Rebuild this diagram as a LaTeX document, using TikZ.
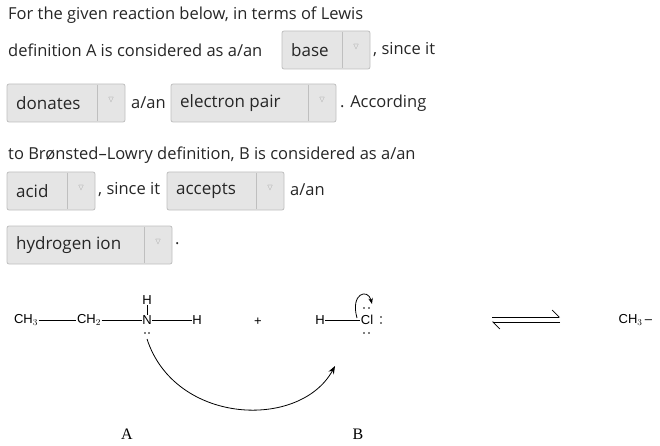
\documentclass[tikz,border=0pt]{standalone}
\usepackage{amssymb}
\usepackage{fontspec}
\setmainfont{Open Sans}
\newfontfamily\chem{Liberation Sans}
\newfontfamily\lab{Liberation Serif}
\usetikzlibrary{arrows.meta}
\tikzset{
 txt/.style={anchor=west,inner sep=0pt,font=\fontsize{16.5pt}{18pt}\selectfont,text=black!85},
 dd/.style={draw=black!25,fill=black!10,rounded corners=2pt,line width=0.8pt},
 ch/.style={inner sep=0.5pt,font=\chem\fontsize{13pt}{15pt}\selectfont},
 bond/.style={line width=0.7pt},
 dot/.style={circle,fill=black,inner sep=0pt,minimum size=1.8pt}
}
\newcommand{\ddbox}[5]{% name,x1,y1,x2,label
 \draw[dd] (#2,#3) rectangle (#4,#3+38);
 \draw[black!25,line width=0.8pt] (#4-28,#3+1) -- (#4-28,#3+37);
 \node[txt,font=\fontsize{17pt}{18pt}\selectfont] (#1) at (#2+9,#3+19) {#5};
 \node[inner sep=0pt,text=black!35,font=\small] (#1v) at (#4-14,#3+16) {$\triangledown$};
}
\begin{document}
\begin{tikzpicture}[x=1pt,y=-1pt]
\useasboundingbox (0,0) rectangle (660,446);
\node[txt] (l1) at (8,15) {For the given reaction below, in terms of Lewis};
\node[txt] (l2) at (8,50) {definition A is considered as a/an};
\ddbox{b1}{282}{31}{370}{base}
\node[txt] (l2b) at (373,50) {, since it};
\ddbox{b2}{7}{84}{125}{donates}
\node[txt] (l3a) at (131,103) {a/an};
\ddbox{b3}{171}{84}{336}{electron pair}
\node[txt] (l3b) at (340,103) {. According};
\node[txt] (l4) at (8,155) {to Brønsted–Lowry definition, B is considered as a/an};
\ddbox{b4}{7}{172}{95}{acid}
\node[txt] (l5a) at (98,190) {, since it};
\ddbox{b5}{167}{172}{284}{accepts}
\node[txt] (l5b) at (290,190) {a/an};
\ddbox{b6}{7}{226}{172}{hydrogen ion}
\node[txt] (l6) at (175,244) {.};
% chemistry
\node[ch] (c1) at (26,320) {CH$_3$};
\node[ch] (c2) at (89,320) {CH$_2$};
\node[ch] (n) at (147,320) {N};
\node[ch] (h1) at (197,320) {H};
\node[ch] (h2) at (147,300) {H};
\draw[bond] (c1.east) -- (c2.west);
\draw[bond] (c2.east) -- (n.west);
\draw[bond] (n.east) -- (h1.west);
\draw[bond] (n.north) -- (h2.south);
\node[dot] (np1) at (145,333) {};
\node[dot] (np2) at (149,333) {};
\node[ch] (plus) at (258,322) {+};
\node[ch] (h3) at (320,320) {H};
\node[ch] (cl) at (367,320) {Cl};
\draw[bond] (h3.east) -- (cl.west);
\node[dot] (cc1) at (381,317) {};
\node[dot] (cc2) at (381,323) {};
\node[dot] (ct1) at (364,308) {};
\node[dot] (ct2) at (369,308) {};
\node[dot] (cb1) at (364,333) {};
\node[dot] (cb2) at (369,333) {};
\coordinate (e1) at (492,317);
\coordinate (e2) at (560,317);
\coordinate (e3) at (492,322);
\coordinate (e4) at (560,322);
\draw[bond,-{Straight Barb[left,length=7pt]}] (e1) -- (e2);
\draw[bond,-{Straight Barb[left,length=7pt]}] (e4) -- (e3);
\node[ch,anchor=west] (c3) at (618,320) {CH$_3$\,–};
\coordinate (tip) at (335,366);
\draw[line width=0.8pt,-{Stealth[length=8pt]}] (147,339) .. controls (175,425) and (300,430) .. (tip);
\coordinate (s1) at (357,318);
\coordinate (s2) at (372,304);
\draw[line width=0.8pt,-{Stealth[length=6pt]}] (s1) .. controls (350,293) and (368,288) .. (s2);
\node[font=\lab\fontsize{16pt}{18pt}\selectfont] (A) at (127,434) {A};
\node[font=\lab\fontsize{16pt}{18pt}\selectfont] (B) at (358,434) {B};
\end{tikzpicture}
\end{document}
